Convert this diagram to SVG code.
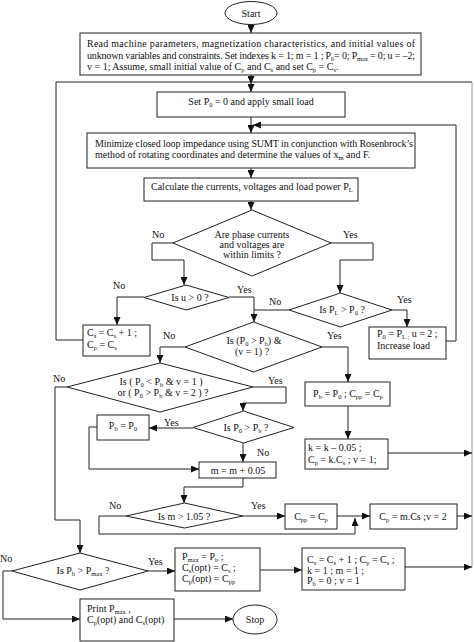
<svg xmlns="http://www.w3.org/2000/svg" width="474" height="642" viewBox="0 0 474 642">
<defs>
<marker id="ah" markerUnits="userSpaceOnUse" markerWidth="8" markerHeight="7" refX="8" refY="3.5" orient="auto">
<path d="M0,0 L8,3.5 L0,7 Z" fill="#111"/>
</marker>
<style>
.t{font-family:"Liberation Serif","Times New Roman",serif;font-size:10px;fill:#111}
.c{text-anchor:middle}
.s{font-size:6.5px}
.b{fill:#fff;stroke:#222;stroke-width:1}
.l{fill:none;stroke:#222;stroke-width:1}
.g{fill:none;stroke:#999;stroke-width:1}
.a{marker-end:url(#ah)}
</style>
</defs>
<rect width="474" height="642" fill="#fff"/>

<g id="connectors">
<path class="l a" d="M251,24 V33"/>
<path class="l a" d="M251,75 V84"/>
<path class="l a" d="M251,84 V92"/>
<path class="l" d="M83,340 H56 V82 H472"/>
<path class="g" d="M472,82 V567"/>
<path class="l a" d="M251,117 V133"/>
<path class="l a" d="M446,341 H456 V125 H253"/>
<path class="l a" d="M251,168 V178"/>
<path class="l a" d="M251,201 V210"/>
<path class="l a" d="M173,243 H152 V260 H184 V285"/>
<path class="l a" d="M331,243 H373 V260 H340 V293"/>
<path class="l a" d="M144,297 H117 V325"/>
<path class="l a" d="M229,297 H254 V322"/>
<path class="l" d="M289,310 H254"/>
<path class="l a" d="M392,310 H407 V327"/>
<path class="l a" d="M185,347 H160 V363"/>
<path class="l a" d="M322,347 H348 V382"/>
<path class="l a" d="M67,387 H55 V520 H80 V553"/>
<path class="l a" d="M253,387 H286 V403 H243 V411"/>
<path class="l a" d="M193,428 H149"/>
<path class="l a" d="M243,443 V462"/>
<path class="l a" d="M97,427 H89 V469 H199"/>
<path class="l a" d="M243,478 V487 H184 V503"/>
<path class="l a" d="M243,516 H285"/>
<path class="l a" d="M126,516 H99 V534 H355 V518"/>
<path class="l a" d="M337,516 H370"/>
<path class="l a" d="M457,516 H472"/>
<path class="l a" d="M348,406 V439"/>
<path class="l a" d="M388,453 H472"/>
<path class="l a" d="M148,571 H175"/>
<path class="l a" d="M12,571 H3 V619 H80"/>
<path class="l a" d="M260,570 H302"/>
<path class="l a" d="M405,567 H472"/>
<path class="l a" d="M174,619 H233"/>
</g>

<g id="start">
<ellipse class="b" cx="251" cy="13" rx="26" ry="11.5"/>
<text class="t c" x="251" y="17">Start</text>
</g>

<g id="read">
<rect class="b" x="80" y="33" width="341" height="42"/>
<text class="t" x="87" y="47" textLength="328" lengthAdjust="spacing">Read machine parameters, magnetization characteristics, and initial values of</text>
<text class="t" x="87" y="59" textLength="328" lengthAdjust="spacing">unknown variables and constraints. Set indexes k = 1; m = 1 ; P<tspan class="s" dy="1.5">b</tspan><tspan dy="-1.5">= 0; P</tspan><tspan class="s" dy="1.5">max</tspan><tspan dy="-1.5"> = 0; u = –2;</tspan></text>
<text class="t" x="87" y="70">v = 1; Assume, small initial value of C<tspan class="s" dy="1.5">p</tspan><tspan dy="-1.5"> and C</tspan><tspan class="s" dy="1.5">s</tspan><tspan dy="-1.5"> and set C</tspan><tspan class="s" dy="1.5">p</tspan><tspan dy="-1.5"> = C</tspan><tspan class="s" dy="1.5">s</tspan><tspan dy="-1.5">.</tspan></text>
</g>

<g id="setp0">
<rect class="b" x="157" y="92" width="188" height="25"/>
<text class="t c" x="251" y="105">Set P<tspan class="s" dy="1.5">0</tspan><tspan dy="-1.5"> = 0 and apply small load</tspan></text>
</g>

<g id="minimize">
<rect class="b" x="87" y="133" width="328" height="35"/>
<text class="t" x="95" y="147" textLength="318" lengthAdjust="spacing">Minimize closed loop impedance using SUMT in conjunction with Rosenbrock’s</text>
<text class="t" x="95" y="158">method of rotating coordinates and determine the  values of x<tspan class="s" dy="1.5">m</tspan><tspan dy="-1.5"> and F.</tspan></text>
</g>

<g id="calculate">
<rect class="b" x="144" y="178" width="214" height="23"/>
<text class="t" x="151" y="190">Calculate the currents, voltages and load power P<tspan class="s" dy="1.5">L</tspan></text>
</g>

<g id="d-limits">
<polygon class="b" points="252,210 331,243 252,276 173,243"/>
<text class="t c" x="252" y="238">Are phase currents</text>
<text class="t c" x="252" y="248">and voltages are</text>
<text class="t c" x="252" y="258">within limits ?</text>
<text class="t" x="152" y="238">No</text>
<text class="t" x="343" y="238">Yes</text>
</g>

<g id="d-u">
<polygon class="b" points="186,285 229,297.5 186,310 144,297.5"/>
<text class="t c" x="190" y="301">Is u &gt; 0 ?</text>
<text class="t" x="113" y="289">No</text>
<text class="t" x="237" y="293">Yes</text>
</g>

<g id="d-pl">
<polygon class="b" points="340.5,293 392,310 340.5,327 289,310"/>
<text class="t c" x="342" y="313">Is P<tspan class="s" dy="1.5">L</tspan><tspan dy="-1.5"> &gt; P</tspan><tspan class="s" dy="1.5">0</tspan><tspan dy="-1.5"> ?</tspan></text>
<text class="t" x="269" y="305">No</text>
<text class="t" x="397" y="303">Yes</text>
</g>

<g id="cs-inc">
<rect class="b" x="83" y="325" width="67" height="31"/>
<text class="t" x="87" y="336">C<tspan class="s" dy="1.5">s</tspan><tspan dy="-1.5"> = C</tspan><tspan class="s" dy="1.5">s</tspan><tspan dy="-1.5"> + 1 ;</tspan></text>
<text class="t" x="87" y="348">C<tspan class="s" dy="1.5">p</tspan><tspan dy="-1.5"> = C</tspan><tspan class="s" dy="1.5">s</tspan></text>
</g>

<g id="p0-pl">
<rect class="b" x="369" y="327" width="77" height="32"/>
<text class="t" x="377" y="337">P<tspan class="s" dy="1.5">0</tspan><tspan dy="-1.5"> = P</tspan><tspan class="s" dy="1.5">L ;</tspan><tspan dy="-1.5"> u = 2 ;</tspan></text>
<text class="t" x="377" y="349">Increase load</text>
</g>

<g id="d-p0pb-v1">
<polygon class="b" points="253.5,322 322,347 253.5,372 185,347"/>
<text class="t c" x="254" y="344">Is (P<tspan class="s" dy="1.5">0</tspan><tspan dy="-1.5"> &gt; P</tspan><tspan class="s" dy="1.5">b</tspan><tspan dy="-1.5">)  &amp;</tspan></text>
<text class="t c" x="252" y="355">(v = 1) ?</text>
<text class="t" x="163" y="339">No</text>
<text class="t" x="327" y="339">Yes</text>
</g>

<g id="d-big">
<polygon class="b" points="160,363 253,387 160,412 67,387"/>
<text class="t c" x="161" y="385">Is ( P<tspan class="s" dy="1.5">0</tspan><tspan dy="-1.5"> &lt; P</tspan><tspan class="s" dy="1.5">b</tspan><tspan dy="-1.5">  &amp;  v = 1 )</tspan></text>
<text class="t c" x="163" y="396">or ( P<tspan class="s" dy="1.5">0</tspan><tspan dy="-1.5"> &gt; P</tspan><tspan class="s" dy="1.5">b</tspan><tspan dy="-1.5"> &amp; v = 2 ) ?</tspan></text>
<text class="t" x="53" y="382">No</text>
<text class="t" x="268" y="384">Yes</text>
</g>

<g id="pb-p0-cpp">
<rect class="b" x="305" y="382" width="85" height="24"/>
<text class="t c" x="348" y="397">P<tspan class="s" dy="1.5">b</tspan><tspan dy="-1.5"> = P</tspan><tspan class="s" dy="1.5">0</tspan><tspan dy="-1.5"> ; C</tspan><tspan class="s" dy="1.5">pp</tspan><tspan dy="-1.5"> = C</tspan><tspan class="s" dy="1.5">p</tspan></text>
</g>

<g id="d-p0pb">
<polygon class="b" points="243.5,411 294,427.5 243.5,443 193,427.5"/>
<text class="t c" x="246" y="431">Is P<tspan class="s" dy="1.5">0</tspan><tspan dy="-1.5"> &gt; P</tspan><tspan class="s" dy="1.5">b</tspan><tspan dy="-1.5"> ?</tspan></text>
<text class="t" x="164" y="426">Yes</text>
<text class="t" x="257" y="456">No</text>
</g>

<g id="pb-p0">
<rect class="b" x="97" y="415" width="52" height="25"/>
<text class="t c" x="123" y="429">P<tspan class="s" dy="1.5">b</tspan><tspan dy="-1.5"> = P</tspan><tspan class="s" dy="1.5">0</tspan></text>
</g>

<g id="m-inc">
<rect class="b" x="199" y="462" width="77" height="16"/>
<text class="t c" x="238" y="474">m = m + 0.05</text>
</g>

<g id="k-dec">
<rect class="b" x="305" y="439" width="83" height="30"/>
<text class="t" x="308" y="451">k = k – 0.05 ;</text>
<text class="t" x="308" y="463">C<tspan class="s" dy="1.5">p</tspan><tspan dy="-1.5"> = k.C</tspan><tspan class="s" dy="1.5">s</tspan><tspan dy="-1.5"> ; v = 1;</tspan></text>
</g>

<g id="d-m">
<polygon class="b" points="184.5,503 243,516 184.5,528 126,516"/>
<text class="t c" x="184" y="520">Is m &gt; 1.05 ?</text>
<text class="t" x="109" y="509">No</text>
<text class="t" x="251" y="509">Yes</text>
</g>

<g id="cpp-cp">
<rect class="b" x="285" y="504" width="52" height="25"/>
<text class="t c" x="311" y="520">C<tspan class="s" dy="1.5">pp</tspan><tspan dy="-1.5"> = C</tspan><tspan class="s" dy="1.5">p</tspan></text>
</g>

<g id="cp-mcs">
<rect class="b" x="370" y="504" width="87" height="25"/>
<text class="t c" x="413" y="520">C<tspan class="s" dy="1.5">p</tspan><tspan dy="-1.5"> = m.Cs ;v = 2</tspan></text>
</g>

<g id="d-pmax">
<polygon class="b" points="80,553 148,571 80,590 12,571"/>
<text class="t c" x="83" y="574">Is P<tspan class="s" dy="1.5">b</tspan><tspan dy="-1.5"> &gt; P</tspan><tspan class="s" dy="1.5">max</tspan><tspan dy="-1.5"> ?</tspan></text>
<text class="t" x="0" y="562">No</text>
<text class="t" x="148" y="565">Yes</text>
</g>

<g id="pmax-box">
<rect class="b" x="175" y="548" width="85" height="43"/>
<text class="t" x="182" y="560">P<tspan class="s" dy="1.5">max</tspan><tspan dy="-1.5"> = P</tspan><tspan class="s" dy="1.5">b</tspan><tspan dy="-1.5"> ;</tspan></text>
<text class="t" x="182" y="571">C<tspan class="s" dy="1.5">s</tspan><tspan dy="-1.5">(opt) = C</tspan><tspan class="s" dy="1.5">s</tspan><tspan dy="-1.5"> ;</tspan></text>
<text class="t" x="182" y="582">C<tspan class="s" dy="1.5">p</tspan><tspan dy="-1.5">(opt) = C</tspan><tspan class="s" dy="1.5">pp</tspan></text>
</g>

<g id="reset-box">
<rect class="b" x="302" y="548" width="103" height="42"/>
<text class="t" x="307" y="563">C<tspan class="s" dy="1.5">s</tspan><tspan dy="-1.5"> = C</tspan><tspan class="s" dy="1.5">s</tspan><tspan dy="-1.5"> + 1 ; C</tspan><tspan class="s" dy="1.5">p</tspan><tspan dy="-1.5"> = C</tspan><tspan class="s" dy="1.5">s</tspan><tspan dy="-1.5"> ;</tspan></text>
<text class="t" x="307" y="574">k = 1 ;  m = 1 ;</text>
<text class="t" x="307" y="584">P<tspan class="s" dy="1.5">b</tspan><tspan dy="-1.5"> = 0 ; v = 1</tspan></text>
</g>

<g id="print">
<rect class="b" x="80" y="599" width="94" height="42"/>
<text class="t" x="87" y="612">Print P<tspan class="s" dy="1.5">max</tspan><tspan dy="-1.5"> ,</tspan></text>
<text class="t" x="87" y="623">C<tspan class="s" dy="1.5">p</tspan><tspan dy="-1.5">(opt) and C</tspan><tspan class="s" dy="1.5">s</tspan><tspan dy="-1.5">(opt)</tspan></text>
</g>

<g id="stop">
<ellipse class="b" cx="255" cy="619.5" rx="22" ry="14.5"/>
<text class="t c" x="255" y="623">Stop</text>
</g>
</svg>
